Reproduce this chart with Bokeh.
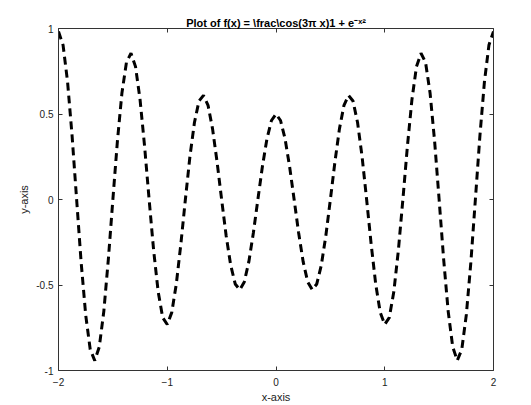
import numpy as np
from bokeh.plotting import figure
from bokeh.models import Range1d, FixedTicker, LinearAxis, Title
from bokeh.embed import file_html
from bokeh.resources import INLINE

# curve samples
x_vals = [-2.0, -1.9583, -1.9167, -1.875, -1.8333, -1.7917, -1.75, -1.7083,
          -1.6667, -1.625, -1.5833, -1.5417, -1.5, -1.4583, -1.4167, -1.375,
          -1.3333, -1.2917, -1.25, -1.2083, -1.1667, -1.125, -1.0833, -1.0417,
          -1.0, -0.9583, -0.9167, -0.875, -0.8333, -0.7917, -0.75, -0.7083,
          -0.6667, -0.625, -0.5833, -0.5417, -0.5, -0.4583, -0.4167, -0.375,
          -0.3333, -0.2917, -0.25, -0.2083, -0.1667, -0.125, -0.0833, -0.0417,
          0.0,
          0.0417, 0.0833, 0.125, 0.1667, 0.2083, 0.25, 0.2917, 0.3333,
          0.375, 0.4167, 0.4583, 0.5, 0.5417, 0.5833, 0.625, 0.6667,
          0.7083, 0.75, 0.7917, 0.8333, 0.875, 0.9167, 0.9583, 1.0,
          1.0417, 1.0833, 1.125, 1.1667, 1.2083, 1.25, 1.2917, 1.3333,
          1.375, 1.4167, 1.4583, 1.5, 1.5417, 1.5833, 1.625, 1.6667,
          1.7083, 1.75, 1.7917, 1.8333, 1.875, 1.9167, 1.9583, 2.0]

f_vals = [0.982, 0.904, 0.689, 0.372, 0.000, -0.368, -0.675, -0.877,
          -0.942, -0.862, -0.654, -0.350, 0.000, 0.342, 0.623, 0.803,
          0.855, 0.777, 0.584, 0.311, 0.000, -0.299, -0.540, -0.691,
          -0.731, -0.660, -0.494, -0.261, 0.000, 0.250, 0.450, 0.576,
          0.609, 0.551, 0.413, 0.219, 0.000, -0.212, -0.384, -0.494,
          -0.528, -0.482, -0.365, -0.196, 0.000, 0.193, 0.355, 0.462,
          0.500,
          0.462, 0.355, 0.193, 0.000, -0.196, -0.365, -0.482, -0.528,
          -0.494, -0.384, -0.212, 0.000, 0.219, 0.413, 0.551, 0.609,
          0.576, 0.450, 0.250, 0.000, -0.261, -0.494, -0.660, -0.731,
          -0.691, -0.540, -0.299, 0.000, 0.311, 0.584, 0.777, 0.855,
          0.803, 0.623, 0.342, 0.000, -0.350, -0.654, -0.862, -0.942,
          -0.877, -0.675, -0.368, 0.000, 0.372, 0.689, 0.904, 0.982]

x_ticks = [-2, -1, 0, 1, 2]
y_ticks = [-1, -0.5, 0, 0.5, 1]
y_tick_labels = {-1: "-1", -0.5: "-0.5", 0: "0", 0.5: "0.5", 1: "1"}

FONT = "Liberation Sans"
AXIS_COLOR = "#333333"

p = figure(width=531, height=405, x_range=Range1d(-2, 2), y_range=Range1d(-1, 1),
           output_backend="svg", toolbar_location=None, title=None,
           x_axis_location=None, y_axis_location=None,
           min_border_left=58, min_border_right=38, min_border_top=28,
           min_border_bottom=34)

p.xgrid.visible = False
p.ygrid.visible = False
p.outline_line_color = None

p.line(x_vals, f_vals, line_color="black", line_width=3, line_dash="8 5")

bottom = LinearAxis(ticker=FixedTicker(ticks=x_ticks), axis_label="x-axis")
left = LinearAxis(ticker=FixedTicker(ticks=y_ticks), axis_label="y-axis",
                  major_label_overrides=y_tick_labels)
top = LinearAxis(ticker=FixedTicker(ticks=x_ticks))
right = LinearAxis(ticker=FixedTicker(ticks=y_ticks))

for ax in (bottom, left, top, right):
    ax.axis_line_color = AXIS_COLOR
    ax.major_tick_line_color = AXIS_COLOR
    ax.major_tick_in = 4
    ax.major_tick_out = 0
    ax.minor_tick_line_color = None
    ax.major_label_text_font = FONT
    ax.major_label_text_font_size = "10px"
    ax.major_label_text_color = "#222222"
    ax.major_label_standoff = 5
    ax.axis_label_text_font = FONT
    ax.axis_label_text_font_size = "11px"
    ax.axis_label_text_font_style = "normal"
    ax.axis_label_text_color = "#222222"
    ax.axis_label_standoff = 4

bottom.major_label_standoff = 7
bottom.axis_label_standoff = 2
left.axis_label_standoff = 3

# mirror axes: ticks only
for ax in (top, right):
    ax.major_label_text_color = None
    ax.major_label_text_font_size = "1px"
    ax.major_label_standoff = 0
top.major_label_standoff = 6

p.add_layout(bottom, "below")
p.add_layout(left, "left")
p.add_layout(top, "above")
p.add_layout(right, "right")

title = Title(text="Plot of f(x) = \\frac\\cos(3\u03c0 x)1 + e\u207b\u02e3\u00b2",
              align="center", text_font=FONT, text_font_size="11px",
              text_font_style="bold", text_color="black", standoff=0)
p.add_layout(title, "above")

open("out.html", "w").write(file_html(p, INLINE))
